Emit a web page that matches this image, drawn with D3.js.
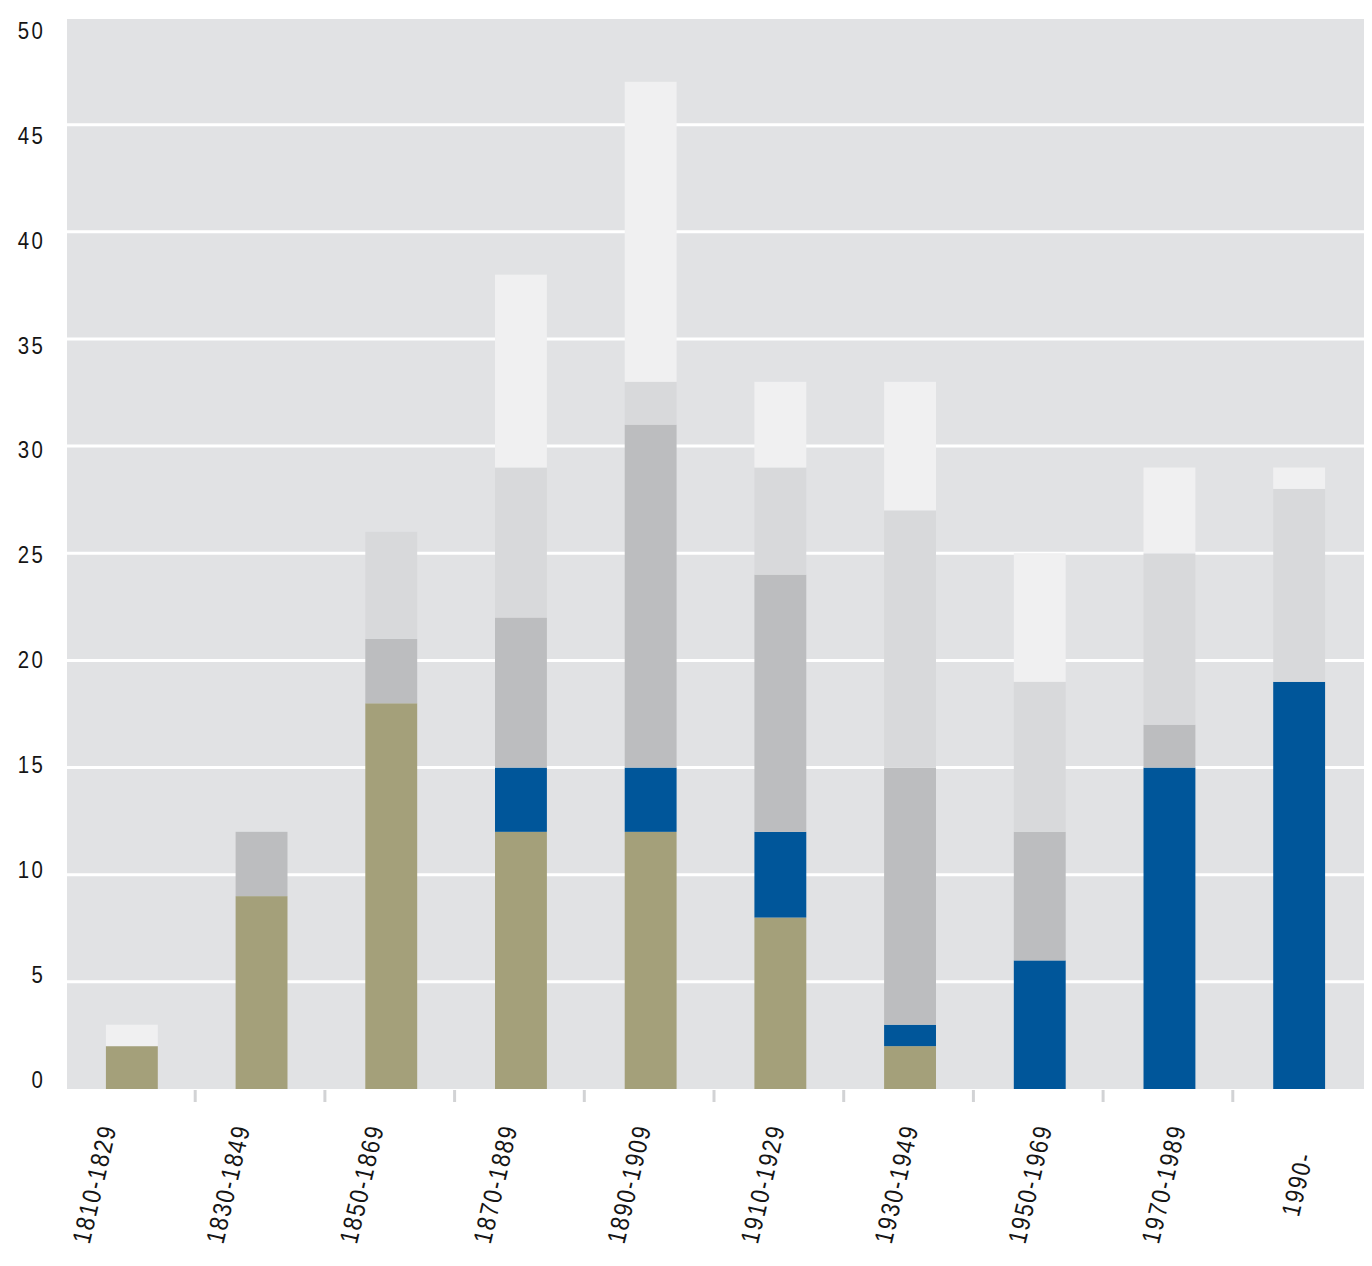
<!DOCTYPE html>
<html>
<head>
<meta charset="utf-8">
<script src="https://cdn.jsdelivr.net/npm/d3@7"></script>
<style>
  html, body { margin: 0; padding: 0; background: #ffffff; }
  svg { display: block; }
  text { font-family: "Liberation Sans", Arial, sans-serif; fill: #151515; }
</style>
</head>
<body>
<svg id="chart" width="1372" height="1266"></svg>
<script>
// ---- data ----
const categories = ["1810-1829","1830-1849","1850-1869","1870-1889","1890-1909","1910-1929","1930-1949","1950-1969","1970-1989","1990-"];
const seriesNames = ["s1","s2","s3","s4","s5"];
const s1 = [2, 9, 18, 12, 12, 8, 2, 0, 0, 0];     // olive
const s2 = [0, 0, 0, 3, 3, 4, 1, 6, 15, 19];      // blue
const s3 = [0, 3, 3, 7, 16, 12, 12, 6, 2, 0];     // dark grey
const s4 = [0, 0, 5, 7, 2, 5, 12, 7, 8, 9];       // mid grey
const s5 = [1, 0, 0, 9, 14, 4, 6, 6, 4, 1];       // light grey
const yTicks = [0, 5, 10, 15, 20, 25, 30, 35, 40, 45, 50];
const colors = ["#a4a07a", "#00569a", "#bcbdbf", "#d8d9db", "#f0f0f1"];

// ---- build table ----
const seriesValues = [s1, s2, s3, s4, s5];
const table = categories.map((c, i) => {
  const row = { cat: c };
  seriesNames.forEach((s, j) => row[s] = seriesValues[j][i]);
  return row;
});

const svg = d3.select("#chart");
const left = 67, right = 1364;
const condense = 0.85;

const x = d3.scaleBand().domain(categories).range([left, right]).paddingInner(0.6).paddingOuter(0.3);
const y = d3.scaleLinear().domain([0, 50]).range([1089, 17.5]);
// label positions (as placed in the reference)
const yLab = d3.scaleLinear().domain([0, 50]).range([1079.5, 30]);
const xLab = d3.scalePoint().domain(categories).range([94, 1297]);

// background
svg.append("rect")
  .attr("x", left).attr("y", y(50))
  .attr("width", right - left).attr("height", y(0) - y(50))
  .attr("fill", "#e1e2e4");

// gridlines
svg.append("g").selectAll("line")
  .data(yTicks.filter(d => d > 0))
  .join("line")
  .attr("x1", left).attr("x2", right)
  .attr("y1", d => y(d)).attr("y2", d => y(d))
  .attr("stroke", "#ffffff").attr("stroke-width", 3);

// stacked bars
const stack = d3.stack().keys(seriesNames);
const layers = stack(table);
svg.append("g").selectAll("g")
  .data(layers)
  .join("g")
  .attr("fill", (d, i) => colors[i])
  .selectAll("rect")
  .data(d => d.filter(v => v[1] - v[0] > 0))
  .join("rect")
  .attr("x", d => x(d.data.cat))
  .attr("width", x.bandwidth())
  .attr("y", d => y(d[1]))
  .attr("height", d => y(d[0]) - y(d[1]));

// category separator ticks
const step = x.step();
svg.append("g").selectAll("line")
  .data(categories.slice(1))
  .join("line")
  .attr("x1", d => x(d) - step * 0.3 - 1.5)
  .attr("x2", d => x(d) - step * 0.3 - 1.5)
  .attr("y1", y(0) + 1).attr("y2", 1102)
  .attr("stroke", "#d2d3d5").attr("stroke-width", 3);

// y labels
svg.append("g").selectAll("text")
  .data(yTicks)
  .join("text")
  .attr("transform", d => `translate(45.5,${yLab(d)}) scale(${condense},1)`)
  .attr("dy", "0.36em")
  .attr("text-anchor", "end")
  .attr("font-size", 24)
  .attr("letter-spacing", 3)
  .text(d => d);

// x labels
svg.append("g").selectAll("text")
  .data(categories)
  .join("text")
  .attr("transform", d => `translate(${xLab(d)},1184) rotate(-77) scale(${condense},1)`)
  .attr("text-anchor", "middle")
  .attr("dy", "0.36em")
  .attr("font-size", 26)
  .attr("letter-spacing", 2)
  .text(d => d);
</script>
</body>
</html>
